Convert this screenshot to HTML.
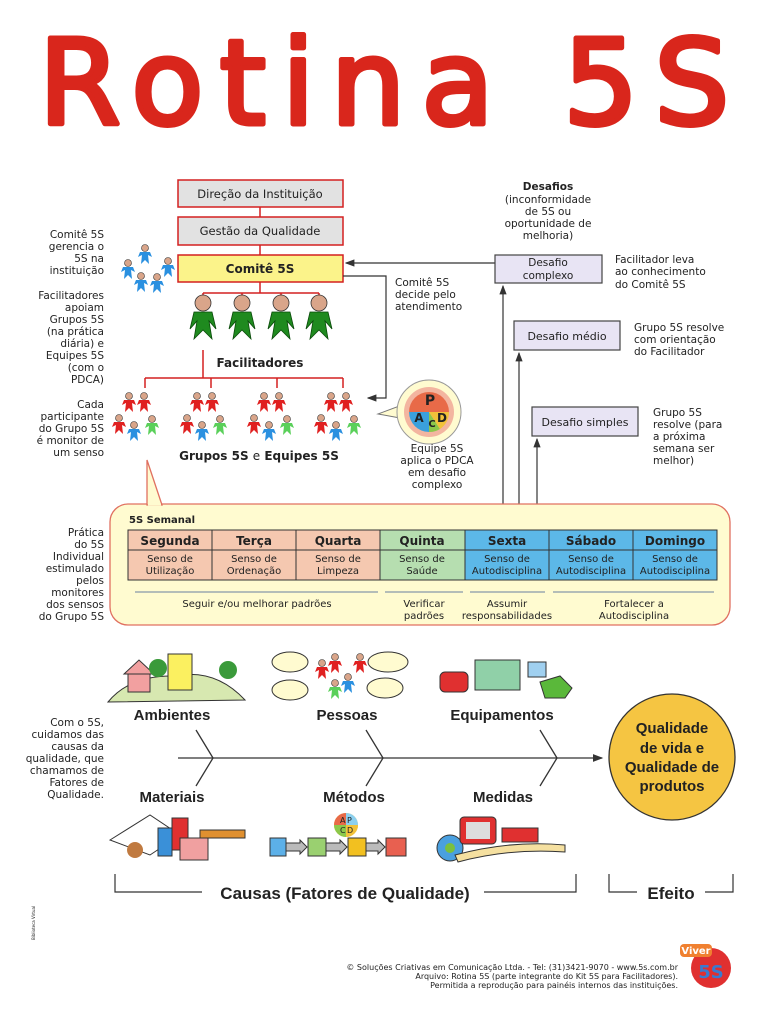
<!DOCTYPE html>
<html><head><meta charset="utf-8"><style>
html,body{margin:0;padding:0;background:#fff}
svg{display:block}
text{font-family:"DejaVu Sans","Liberation Sans",sans-serif;fill:#222}
.s{font-size:10.5px}
.b{font-weight:bold}
text.a,.a text{font-family:"Liberation Sans",sans-serif}
</style></head><body>
<svg width="768" height="1024" viewBox="0 0 768 1024" xmlns="http://www.w3.org/2000/svg">
<defs>
<marker id="ar" markerWidth="8" markerHeight="8" refX="7" refY="4" orient="auto"><path d="M0,1 L8,4 L0,7 z" fill="#333"/></marker>
<g id="p"><circle cx="0" cy="-7" r="3.5" fill="#d9a58a" stroke="#333" stroke-width=".6"/><path d="M-5,-3 L5,-3 L7,2 L3,0 L4,9 L0,5 L-4,9 L-3,0 L-7,2 z"/></g>
<g id="f"><circle cx="0" cy="-12" r="8" fill="#d9a58a" stroke="#333" stroke-width=".8"/><path d="M-9,-3 L9,-3 L13,14 L6,6 L9,24 L0,15 L-9,24 L-6,6 L-13,14 z" fill="#1f8a1f" stroke="#0a4a0a" stroke-width=".8"/></g>
<g id="grp"><use href="#p" x="-8" y="8" fill="#e02020"/><use href="#p" x="7" y="8" fill="#e02020"/><use href="#p" x="-18" y="30" fill="#e02020"/><use href="#p" x="-3" y="37" fill="#2a90e0"/><use href="#p" x="15" y="31" fill="#5ad05a"/></g>
</defs>

<text x="392" y="124" text-anchor="middle" style="font-family:'DejaVu Sans',sans-serif;font-size:118px;letter-spacing:16px;fill:#d9261c;stroke:#d9261c;stroke-width:5px;stroke-linejoin:round">Rotina 5S</text>

<!-- org chart -->
<g stroke="#d42020" stroke-width="1.5">
<line x1="260" y1="207" x2="260" y2="217"/><line x1="260" y1="245" x2="260" y2="255"/>
<line x1="260" y1="282" x2="260" y2="293"/><line x1="203" y1="293" x2="319" y2="293"/>
<line x1="203" y1="293" x2="203" y2="302"/><line x1="242" y1="293" x2="242" y2="302"/><line x1="281" y1="293" x2="281" y2="302"/><line x1="319" y1="293" x2="319" y2="302"/>
<line x1="203" y1="350" x2="203" y2="378"/><line x1="145" y1="378" x2="343" y2="378"/>
<line x1="145" y1="378" x2="145" y2="388"/><line x1="211" y1="378" x2="211" y2="388"/><line x1="277" y1="378" x2="277" y2="388"/><line x1="343" y1="378" x2="343" y2="388"/>
</g>
<rect x="178" y="180" width="165" height="27" fill="#e2e2e2" stroke="#d42020" stroke-width="1.5"/>
<text x="260" y="198" text-anchor="middle" class="s" style="font-size:11.5px">Direção da Instituição</text>
<rect x="178" y="217" width="165" height="28" fill="#e2e2e2" stroke="#d42020" stroke-width="1.5"/>
<text x="260" y="235" text-anchor="middle" style="font-size:11.5px">Gestão da Qualidade</text>
<rect x="178" y="255" width="165" height="27" fill="#fbf38a" stroke="#d42020" stroke-width="1.5"/>
<text x="260" y="273" text-anchor="middle" class="b" style="font-size:12px">Comitê 5S</text>

<use href="#f" x="203" y="315"/><use href="#f" x="242" y="315"/><use href="#f" x="281" y="315"/><use href="#f" x="319" y="315"/>
<text x="260" y="367" text-anchor="middle" class="b" style="font-size:12px">Facilitadores</text>

<g fill="#2a90e0"><use href="#p" x="145" y="255"/><use href="#p" x="128" y="270"/><use href="#p" x="168" y="268"/><use href="#p" x="141" y="283"/><use href="#p" x="157" y="284"/></g>

<use href="#grp" x="137" y="395"/><use href="#grp" x="205" y="395"/><use href="#grp" x="272" y="395"/><use href="#grp" x="339" y="395"/>
<text x="259" y="460" text-anchor="middle" class="b" style="font-size:12px">Grupos 5S <tspan font-weight="normal">e</tspan> Equipes 5S</text>

<path d="M343,276 H386 V398 H368" fill="none" stroke="#333" stroke-width="1.2" marker-end="url(#ar)"/>
<text class="s" x="395" y="286">Comitê 5S</text><text class="s" x="395" y="298">decide pelo</text><text class="s" x="395" y="310">atendimento</text>

<!-- PDCA bubble -->
<path d="M400,418 L378,414 L402,405 z" fill="#fffbd0" stroke="#777"/>
<circle cx="429" cy="412" r="32" fill="#fffbd0" stroke="#999"/>
<circle cx="429" cy="412" r="25" fill="#f3b5a0"/>
<path d="M429,412 L409,412 A20,20 0 0 1 449,412 z" fill="#e86a48"/>
<path d="M429,412 L409,412 A20,20 0 0 0 429,432 z" fill="#3aa0dc"/>
<path d="M429,412 L429,432 A20,20 0 0 0 440,429 z" fill="#8cc84a"/>
<path d="M429,412 L440,429 A20,20 0 0 0 449,412 z" fill="#f2c23a"/>
<text x="430" y="405" text-anchor="middle" class="b" style="font-size:14px">P</text>
<text x="419" y="422" text-anchor="middle" class="b" style="font-size:12px">A</text>
<text x="432" y="427" text-anchor="middle" class="b" style="font-size:10px">C</text>
<text x="442" y="422" text-anchor="middle" class="b" style="font-size:12px">D</text>
<g text-anchor="middle" class="s"><text x="437" y="452">Equipe 5S</text><text x="437" y="464">aplica o PDCA</text><text x="437" y="476">em desafio</text><text x="437" y="488">complexo</text></g>

<!-- Desafios -->
<g text-anchor="middle" class="s"><text x="548" y="190" class="b">Desafios</text><text x="548" y="203">(inconformidade</text><text x="548" y="215">de 5S ou</text><text x="548" y="227">oportunidade de</text><text x="548" y="239">melhoria)</text></g>
<line x1="495" y1="263" x2="346" y2="263" stroke="#333" stroke-width="1.2" marker-end="url(#ar)"/>
<g stroke="#333" stroke-width="1.2" fill="none">
<line x1="503" y1="515" x2="503" y2="286" marker-end="url(#ar)"/>
<line x1="519" y1="515" x2="519" y2="353" marker-end="url(#ar)"/>
<line x1="537" y1="515" x2="537" y2="439" marker-end="url(#ar)"/>
<path d="M423,530 V515 H541 V530"/>
</g>
<rect x="495" y="255" width="107" height="28" fill="#e8e4f4" stroke="#444" stroke-width="1.2"/>
<text x="548" y="266" text-anchor="middle" class="s">Desafio</text><text x="548" y="279" text-anchor="middle" class="s">complexo</text>
<rect x="514" y="321" width="106" height="29" fill="#e8e4f4" stroke="#444" stroke-width="1.2"/>
<text x="567" y="340" text-anchor="middle" style="font-size:11px">Desafio médio</text>
<rect x="532" y="407" width="106" height="29" fill="#e8e4f4" stroke="#444" stroke-width="1.2"/>
<text x="585" y="426" text-anchor="middle" style="font-size:11px">Desafio simples</text>
<g class="s"><text x="615" y="263">Facilitador leva</text><text x="615" y="275">ao conhecimento</text><text x="615" y="288">do Comitê 5S</text>
<text x="634" y="331">Grupo 5S resolve</text><text x="634" y="343">com orientação</text><text x="634" y="355">do Facilitador</text>
<text x="653" y="416">Grupo 5S</text><text x="653" y="428">resolve (para</text><text x="653" y="440">a próxima</text><text x="653" y="452">semana ser</text><text x="653" y="464">melhor)</text></g>

<!-- left notes -->
<g class="s" text-anchor="end">
<text x="104" y="238">Comitê 5S</text><text x="104" y="250">gerencia o</text><text x="104" y="262">5S na</text><text x="104" y="274">instituição</text>
<text x="104" y="299">Facilitadores</text><text x="104" y="311">apoiam</text><text x="104" y="323">Grupos 5S</text><text x="104" y="335">(na prática</text><text x="104" y="347">diária) e</text><text x="104" y="359">Equipes 5S</text><text x="104" y="371">(com o</text><text x="104" y="383">PDCA)</text>
<text x="104" y="408">Cada</text><text x="104" y="420">participante</text><text x="104" y="432">do Grupo 5S</text><text x="104" y="444">é monitor de</text><text x="104" y="456">um senso</text>
<text x="104" y="536">Prática</text><text x="104" y="548">do 5S</text><text x="104" y="560">Individual</text><text x="104" y="572">estimulado</text><text x="104" y="584">pelos</text><text x="104" y="596">monitores</text><text x="104" y="608">dos sensos</text><text x="104" y="620">do Grupo 5S</text>
<text x="104" y="726">Com o 5S,</text><text x="104" y="738">cuidamos das</text><text x="104" y="750">causas da</text><text x="104" y="762">qualidade, que</text><text x="104" y="774">chamamos de</text><text x="104" y="786">Fatores de</text><text x="104" y="798">Qualidade.</text>
</g>

<!-- yellow panel -->
<rect x="110" y="504" width="620" height="121" rx="18" fill="#fffbd0" stroke="#e07060" stroke-width="1.3"/>
<path d="M147,460 L147,505 L162,505 z" fill="#fffbd0" stroke="#e07060" stroke-width="1.3"/>
<line x1="148" y1="504.5" x2="161" y2="504.5" stroke="#fffbd0" stroke-width="2"/>
<text x="129" y="523" class="b" style="font-size:10px">5S Semanal</text>
<g stroke="#333" stroke-width="1">
<rect x="128" y="530" width="252" height="50" fill="#f5c8b0"/>
<rect x="380" y="530" width="85" height="50" fill="#b6deb0"/>
<rect x="465" y="530" width="252" height="50" fill="#5cb8e8"/>
<line x1="128" y1="550" x2="717" y2="550"/>
<line x1="212" y1="530" x2="212" y2="580"/><line x1="296" y1="530" x2="296" y2="580"/><line x1="380" y1="530" x2="380" y2="580"/><line x1="465" y1="530" x2="465" y2="580"/><line x1="549" y1="530" x2="549" y2="580"/><line x1="633" y1="530" x2="633" y2="580"/>
</g>
<g text-anchor="middle" class="b" style="font-size:12px">
<text x="170" y="545">Segunda</text><text x="254" y="545">Terça</text><text x="338" y="545">Quarta</text><text x="422" y="545">Quinta</text><text x="507" y="545">Sexta</text><text x="591" y="545">Sábado</text><text x="675" y="545">Domingo</text></g>
<g text-anchor="middle" style="font-size:10px">
<text x="170" y="562">Senso de</text><text x="170" y="574">Utilização</text>
<text x="254" y="562">Senso de</text><text x="254" y="574">Ordenação</text>
<text x="338" y="562">Senso de</text><text x="338" y="574">Limpeza</text>
<text x="422" y="562">Senso de</text><text x="422" y="574">Saúde</text>
<text x="507" y="562">Senso de</text><text x="507" y="574">Autodisciplina</text>
<text x="591" y="562">Senso de</text><text x="591" y="574">Autodisciplina</text>
<text x="675" y="562">Senso de</text><text x="675" y="574">Autodisciplina</text>
<text x="257" y="607">Seguir e/ou melhorar padrões</text>
<text x="424" y="607">Verificar</text><text x="424" y="619">padrões</text>
<text x="507" y="607">Assumir</text><text x="507" y="619">responsabilidades</text>
<text x="634" y="607">Fortalecer a</text><text x="634" y="619">Autodisciplina</text></g>
<g stroke="#6a7fa0" stroke-width="1"><line x1="135" y1="592" x2="378" y2="592"/><line x1="385" y1="592" x2="463" y2="592"/><line x1="470" y1="592" x2="545" y2="592"/><line x1="553" y1="592" x2="714" y2="592"/></g>

<!-- fishbone icons (simplified) -->
<path d="M108,702 Q130,675 175,676 Q215,668 245,700 z" fill="#d7e8b0" stroke="#333"/>
<rect x="128" y="672" width="22" height="20" fill="#f2a0a0" stroke="#333"/><path d="M124,674 L139,660 L154,674 z" fill="#f2a0a0" stroke="#333"/>
<rect x="168" y="654" width="24" height="36" fill="#fbf060" stroke="#333"/>
<circle cx="158" cy="668" r="9" fill="#3a9a3a"/><circle cx="228" cy="670" r="9" fill="#3a9a3a"/>
<g fill="#fffbd0" stroke="#333"><ellipse cx="290" cy="662" rx="18" ry="10"/><ellipse cx="290" cy="690" rx="18" ry="10"/><ellipse cx="388" cy="662" rx="20" ry="10"/><ellipse cx="385" cy="688" rx="18" ry="10"/></g>
<use href="#p" x="322" y="670" fill="#e02020"/><use href="#p" x="335" y="664" fill="#e02020"/><use href="#p" x="360" y="664" fill="#e02020"/><use href="#p" x="335" y="690" fill="#5ad05a"/><use href="#p" x="348" y="684" fill="#2a90e0"/>
<rect x="440" y="672" width="28" height="20" rx="5" fill="#e03030" stroke="#333"/>
<rect x="475" y="660" width="45" height="30" fill="#90d0a8" stroke="#333"/>
<rect x="528" y="662" width="18" height="15" fill="#a0d0f0" stroke="#333"/>
<path d="M540,682 L560,676 L572,688 L565,698 L545,698 z" fill="#5ab83a" stroke="#333"/>

<path d="M110,840 L150,815 L180,835 L150,855 z" fill="#fff" stroke="#333"/>
<circle cx="135" cy="850" r="8" fill="#c07a40"/>
<rect x="158" y="828" width="14" height="28" fill="#3a90d8" stroke="#333"/><rect x="172" y="818" width="16" height="32" fill="#e03030" stroke="#333"/>
<rect x="180" y="838" width="28" height="22" fill="#f0a0a0" stroke="#333"/><rect x="200" y="830" width="45" height="8" fill="#e09030" stroke="#333"/>
<circle cx="346" cy="825" r="12" fill="#f2c23a"/><path d="M346,825 L334,825 A12,12 0 0 1 346,813 z" fill="#e86a48"/><path d="M346,825 L346,813 A12,12 0 0 1 358,825 z" fill="#8cd0f0"/><path d="M346,825 L358,825 A12,12 0 0 1 346,837 z" fill="#f2c23a"/><path d="M346,825 L346,837 A12,12 0 0 1 334,825 z" fill="#8cc84a"/>
<text x="340" y="823" style="font-size:8px">A</text><text x="347" y="823" style="font-size:8px">P</text><text x="340" y="833" style="font-size:8px">C</text><text x="347" y="833" style="font-size:8px">D</text>
<g stroke="#333"><rect x="270" y="838" width="16" height="18" fill="#5cb0e8"/><rect x="308" y="838" width="18" height="18" fill="#9ad070"/><rect x="348" y="838" width="18" height="18" fill="#f2c020"/><rect x="386" y="838" width="20" height="18" fill="#e86050"/>
<path d="M286,843 H300 V840 L307,847 L300,854 V851 H286 z" fill="#bbb"/><path d="M326,843 H340 V840 L347,847 L340,854 V851 H326 z" fill="#bbb"/><path d="M366,843 H378 V840 L385,847 L378,854 V851 H366 z" fill="#bbb"/></g>
<circle cx="450" cy="848" r="13" fill="#4aa0e0" stroke="#333"/><circle cx="450" cy="848" r="5" fill="#7ac040"/>
<path d="M455,855 Q510,840 565,845 L565,852 Q510,848 458,862 z" fill="#f5e0a0" stroke="#333"/>
<rect x="460" y="817" width="36" height="27" rx="4" fill="#e03030" stroke="#333"/><rect x="466" y="822" width="24" height="17" fill="#ddd"/>
<rect x="502" y="828" width="36" height="14" fill="#e03030" stroke="#333"/>

<!-- fishbone -->
<g stroke="#333" stroke-width="1.3" fill="none">
<line x1="178" y1="758" x2="602" y2="758" marker-end="url(#ar)"/>
<line x1="196" y1="730" x2="213" y2="758"/><line x1="196" y1="786" x2="213" y2="758"/>
<line x1="366" y1="730" x2="383" y2="758"/><line x1="366" y1="786" x2="383" y2="758"/>
<line x1="540" y1="730" x2="557" y2="758"/><line x1="540" y1="786" x2="557" y2="758"/>
</g>
<g class="b a" style="font-size:15px" text-anchor="middle">
<text x="172" y="720">Ambientes</text><text x="347" y="720">Pessoas</text><text x="502" y="720">Equipamentos</text>
<text x="172" y="802">Materiais</text><text x="354" y="802">Métodos</text><text x="503" y="802">Medidas</text></g>
<circle cx="672" cy="757" r="63" fill="#f5c542" stroke="#333" stroke-width="1.3"/>
<g class="b a" style="font-size:15px" text-anchor="middle"><text x="672" y="733">Qualidade</text><text x="672" y="753">de vida e</text><text x="672" y="772">Qualidade de</text><text x="672" y="791">produtos</text></g>

<g stroke="#333" stroke-width="1.2" fill="none">
<path d="M115,874 V892 H202"/><path d="M484,892 H576 V874"/>
<path d="M609,874 V892 H637"/><path d="M705,892 H733 V874"/></g>
<text x="345" y="899" text-anchor="middle" class="b a" style="font-size:17px">Causas (Fatores de Qualidade)</text>
<text x="671" y="899" text-anchor="middle" class="b a" style="font-size:17px">Efeito</text>

<g text-anchor="end" style="font-size:8px"><text x="678" y="970">© Soluções Criativas em Comunicação Ltda. - Tel: (31)3421-9070 - www.5s.com.br</text><text x="678" y="979">Arquivo: Rotina 5S (parte integrante do Kit 5S para Facilitadores).</text><text x="678" y="988">Permitida a reprodução para painéis internos das instituições.</text></g>
<circle cx="711" cy="968" r="20" fill="#e03030"/>
<rect x="680" y="944" width="32" height="13" rx="4" fill="#f08030"/>
<text x="696" y="954" text-anchor="middle" class="b" style="font-size:10px;fill:#fff">Viver</text>
<text x="711" y="978" text-anchor="middle" class="b" style="font-size:18px;fill:#3a7ad0">5S</text>
<text x="35" y="940" transform="rotate(-90 35 940)" style="font-size:4px">Biblioteca Virtual</text>
</svg>
</body></html>
